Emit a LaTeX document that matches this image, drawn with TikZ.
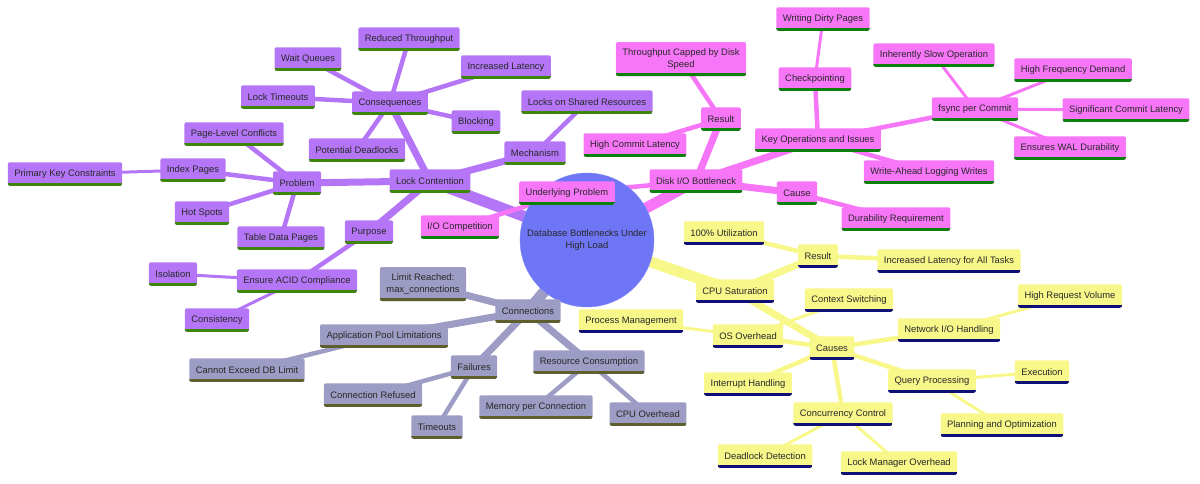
\documentclass[tikz,border=0pt]{standalone}
\usepackage{fontspec}
\setmainfont{Liberation Sans}
\usepackage{tikz}
\usetikzlibrary{backgrounds}
\usepackage{xcolor}
\definecolor{LockPurple}{RGB}{180,118,247}
\definecolor{LockLine}{RGB}{60,135,10}
\definecolor{DiskPink}{RGB}{247,118,247}
\definecolor{DiskLine}{RGB}{10,130,10}
\definecolor{CpuYellow}{RGB}{248,248,138}
\definecolor{CpuLine}{RGB}{15,15,120}
\definecolor{ConnGray}{RGB}{156,156,196}
\definecolor{ConnLine}{RGB}{95,95,45}
\definecolor{RootBlue}{RGB}{111,118,245}
\definecolor{InkGray}{RGB}{40,40,40}
\tikzset{%
  mind_block/.style={%
    rectangle,%
    rounded corners=2pt,%
    minimum height=23.5pt,%
    inner xsep=6.5pt,%
    inner ysep=3pt,%
    text=InkGray,%
    font={\fontsize{9.4}{11.5}\selectfont},%
    align=center%
  },
  underlined/.style={%
    path picture={\draw [line width=6pt, #1]
      (path picture bounding box.south west) -- (path picture bounding box.south east);}%
  },
  lock_block/.style={mind_block, fill=LockPurple, underlined=LockLine},
  disk_block/.style={mind_block, fill=DiskPink, underlined=DiskLine},
  cpu_block/.style={mind_block, fill=CpuYellow, underlined=CpuLine},
  conn_block/.style={mind_block, fill=ConnGray, underlined=ConnLine},
  root_circle/.style={%
    circle,%
    minimum size=134pt,%
    fill=RootBlue,%
    draw=RootBlue!85!white,%
    text=InkGray,%
    font={\fontsize{9.4}{11.5}\selectfont},%
    align=center%
  },
  edge_one/.style={line width=11pt},
  edge_two/.style={line width=7pt},
  edge_three/.style={line width=4.5pt},
  edge_four/.style={line width=3pt},
}

\begin{document}
\begin{tikzpicture}[x=1pt, y=-1pt]
  \useasboundingbox (0,0) rectangle (1200,483);

  % root
  \node [root_circle] (root) at (587,240) {Database Bottlenecks Under\\High Load};

  % lock contention
  \node [lock_block] (lock) at (430,181) {Lock Contention};
  \node [lock_block] (consequences) at (390,103) {Consequences};
  \node [lock_block] (reduced) at (409,39) {Reduced Throughput};
  \node [lock_block] (waitq) at (308,59) {Wait Queues};
  \node [lock_block] (locktimeouts) at (278,97) {Lock Timeouts};
  \node [lock_block] (inclatency) at (506,67) {Increased Latency};
  \node [lock_block] (blocking) at (476,122) {Blocking};
  \node [lock_block] (deadlocks) at (357,150) {Potential Deadlocks};
  \node [lock_block] (problem) at (297,183) {Problem};
  \node [lock_block] (pagelevel) at (234,134) {Page-Level Conflicts};
  \node [lock_block] (indexpages) at (193,170) {Index Pages};
  \node [lock_block] (primarykey) at (65,174) {Primary Key Constraints};
  \node [lock_block] (hotspots) at (202,213) {Hot Spots};
  \node [lock_block] (tabledata) at (281,238) {Table Data Pages};
  \node [lock_block] (mechanism) at (535,153) {Mechanism};
  \node [lock_block] (sharedlocks) at (587,102) {Locks on Shared Resources};
  \node [lock_block] (purpose) at (369,232) {Purpose};
  \node [lock_block] (acid) at (297,281) {Ensure ACID Compliance};
  \node [lock_block] (isolation) at (173,274) {Isolation};
  \node [lock_block] (consistency) at (217,320) {Consistency};

  % disk i/o
  \node [disk_block] (disk) at (696,181) {Disk I/O Bottleneck};
  \node [disk_block] (diskresult) at (721,119) {Result};
  \node [disk_block, minimum height=34pt] (capped) at (681,59) {Throughput Capped by Disk\\Speed};
  \node [disk_block] (commitlat) at (635,145) {High Commit Latency};
  \node [disk_block] (keyops) at (818,140) {Key Operations and Issues};
  \node [disk_block] (checkpoint) at (815,79) {Checkpointing};
  \node [disk_block] (dirtypages) at (823,19) {Writing Dirty Pages};
  \node [disk_block] (fsync) at (975,109) {fsync per Commit};
  \node [disk_block] (slowop) at (934,55) {Inherently Slow Operation};
  \node [disk_block] (highfreq) at (1073,70) {High Frequency Demand};
  \node [disk_block] (siglatency) at (1126,110) {Significant Commit Latency};
  \node [disk_block] (waldurable) at (1070,148) {Ensures WAL Durability};
  \node [disk_block] (walwrites) at (929,172) {Write-Ahead Logging Writes};
  \node [disk_block] (cause) at (797,193) {Cause};
  \node [disk_block] (durability) at (896,219) {Durability Requirement};
  \node [disk_block] (underlying) at (567,193) {Underlying Problem};
  \node [disk_block] (iocomp) at (460,227) {I/O Competition};

  % cpu saturation
  \node [cpu_block] (cpu) at (735,291) {CPU Saturation};
  \node [cpu_block] (cpuresult) at (818,256) {Result};
  \node [cpu_block] (utilization) at (724,233) {100\% Utilization};
  \node [cpu_block] (alltasks) at (949,261) {Increased Latency for All Tasks};
  \node [cpu_block] (causes) at (832,348) {Causes};
  \node [cpu_block] (osoverhead) at (748,336) {OS Overhead};
  \node [cpu_block] (procmgmt) at (631,321) {Process Management};
  \node [cpu_block] (ctxswitch) at (849,300) {Context Switching};
  \node [cpu_block] (interrupt) at (748,384) {Interrupt Handling};
  \node [cpu_block] (netio) at (949,330) {Network I/O Handling};
  \node [cpu_block] (reqvolume) at (1070,296) {High Request Volume};
  \node [cpu_block] (query) at (932,381) {Query Processing};
  \node [cpu_block] (execution) at (1042,372) {Execution};
  \node [cpu_block] (planning) at (1002,425) {Planning and Optimization};
  \node [cpu_block] (concurrency) at (843,414) {Concurrency Control};
  \node [cpu_block] (deadlockdet) at (765,456) {Deadlock Detection};
  \node [cpu_block] (lockmgr) at (899,463) {Lock Manager Overhead};

  % connections
  \node [conn_block] (conn) at (528,311) {Connections};
  \node [conn_block, minimum height=34pt] (limit) at (423,284) {Limit Reached:\\max\_connections};
  \node [conn_block] (apppool) at (384,336) {Application Pool Limitations};
  \node [conn_block] (cannotexceed) at (247,370) {Cannot Exceed DB Limit};
  \node [conn_block] (failures) at (474,367) {Failures};
  \node [conn_block] (refused) at (373,395) {Connection Refused};
  \node [conn_block] (timeouts) at (437,427) {Timeouts};
  \node [conn_block] (resource) at (589,362) {Resource Consumption};
  \node [conn_block] (memory) at (536,407) {Memory per Connection};
  \node [conn_block] (cpuoverhead) at (648,414) {CPU Overhead};

  \begin{scope}[on background layer]
    % lock contention
    \draw [edge_one, LockPurple] (root.center) -- (lock.center);
    \draw [edge_two, LockPurple] (lock.center) -- (consequences.center);
    \draw [edge_two, LockPurple] (lock.center) -- (problem.center);
    \draw [edge_two, LockPurple] (lock.center) -- (mechanism.center);
    \draw [edge_two, LockPurple] (lock.center) -- (purpose.center);
    \draw [edge_three, LockPurple] (consequences.center) -- (reduced.center);
    \draw [edge_three, LockPurple] (consequences.center) -- (waitq.center);
    \draw [edge_three, LockPurple] (consequences.center) -- (locktimeouts.center);
    \draw [edge_three, LockPurple] (consequences.center) -- (inclatency.center);
    \draw [edge_three, LockPurple] (consequences.center) -- (blocking.center);
    \draw [edge_three, LockPurple] (consequences.center) -- (deadlocks.center);
    \draw [edge_three, LockPurple] (problem.center) -- (pagelevel.center);
    \draw [edge_three, LockPurple] (problem.center) -- (indexpages.center);
    \draw [edge_three, LockPurple] (problem.center) -- (hotspots.center);
    \draw [edge_three, LockPurple] (problem.center) -- (tabledata.center);
    \draw [edge_four, LockPurple] (indexpages.center) -- (primarykey.center);
    \draw [edge_three, LockPurple] (mechanism.center) -- (sharedlocks.center);
    \draw [edge_three, LockPurple] (purpose.center) -- (acid.center);
    \draw [edge_four, LockPurple] (acid.center) -- (isolation.center);
    \draw [edge_four, LockPurple] (acid.center) -- (consistency.center);

    % disk i/o
    \draw [edge_one, DiskPink] (root.center) -- (disk.center);
    \draw [edge_two, DiskPink] (disk.center) -- (diskresult.center);
    \draw [edge_two, DiskPink] (disk.center) -- (keyops.center);
    \draw [edge_two, DiskPink] (disk.center) -- (cause.center);
    \draw [edge_three, DiskPink] (disk.center) -- (underlying.center);
    \draw [edge_three, DiskPink] (diskresult.center) -- (capped.center);
    \draw [edge_three, DiskPink] (diskresult.center) -- (commitlat.center);
    \draw [edge_three, DiskPink] (keyops.center) -- (checkpoint.center);
    \draw [edge_three, DiskPink] (keyops.center) -- (fsync.center);
    \draw [edge_three, DiskPink] (keyops.center) -- (walwrites.center);
    \draw [edge_four, DiskPink] (checkpoint.center) -- (dirtypages.center);
    \draw [edge_four, DiskPink] (fsync.center) -- (slowop.center);
    \draw [edge_four, DiskPink] (fsync.center) -- (highfreq.center);
    \draw [edge_four, DiskPink] (fsync.center) -- (siglatency.center);
    \draw [edge_four, DiskPink] (fsync.center) -- (waldurable.center);
    \draw [edge_three, DiskPink] (cause.center) -- (durability.center);
    \draw [edge_three, DiskPink] (underlying.center) -- (iocomp.center);

    % cpu saturation
    \draw [edge_one, CpuYellow] (root.center) -- (cpu.center);
    \draw [edge_two, CpuYellow] (cpu.center) -- (cpuresult.center);
    \draw [edge_two, CpuYellow] (cpu.center) -- (causes.center);
    \draw [edge_three, CpuYellow] (cpuresult.center) -- (utilization.center);
    \draw [edge_three, CpuYellow] (cpuresult.center) -- (alltasks.center);
    \draw [edge_three, CpuYellow] (causes.center) -- (osoverhead.center);
    \draw [edge_three, CpuYellow] (causes.center) -- (interrupt.center);
    \draw [edge_three, CpuYellow] (causes.center) -- (netio.center);
    \draw [edge_three, CpuYellow] (causes.center) -- (query.center);
    \draw [edge_three, CpuYellow] (causes.center) -- (concurrency.center);
    \draw [edge_four, CpuYellow] (osoverhead.center) -- (procmgmt.center);
    \draw [edge_four, CpuYellow] (osoverhead.center) -- (ctxswitch.center);
    \draw [edge_four, CpuYellow] (netio.center) -- (reqvolume.center);
    \draw [edge_four, CpuYellow] (query.center) -- (execution.center);
    \draw [edge_four, CpuYellow] (query.center) -- (planning.center);
    \draw [edge_four, CpuYellow] (concurrency.center) -- (deadlockdet.center);
    \draw [edge_four, CpuYellow] (concurrency.center) -- (lockmgr.center);

    % connections
    \draw [edge_one, ConnGray] (root.center) -- (conn.center);
    \draw [edge_two, ConnGray] (conn.center) -- (limit.center);
    \draw [edge_two, ConnGray] (conn.center) -- (apppool.center);
    \draw [edge_two, ConnGray] (conn.center) -- (failures.center);
    \draw [edge_two, ConnGray] (conn.center) -- (resource.center);
    \draw [edge_three, ConnGray] (apppool.center) -- (cannotexceed.center);
    \draw [edge_three, ConnGray] (failures.center) -- (refused.center);
    \draw [edge_three, ConnGray] (failures.center) -- (timeouts.center);
    \draw [edge_three, ConnGray] (resource.center) -- (memory.center);
    \draw [edge_three, ConnGray] (resource.center) -- (cpuoverhead.center);
  \end{scope}
\end{tikzpicture}
\end{document}
